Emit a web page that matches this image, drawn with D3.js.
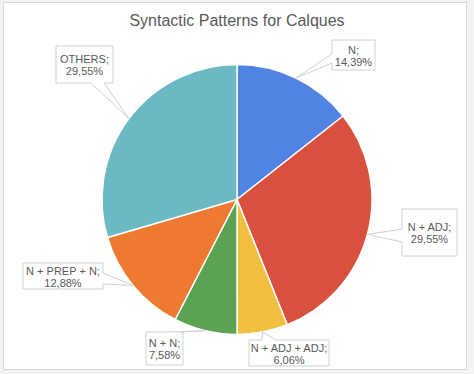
<!DOCTYPE html>
<html>
<head>
<meta charset="utf-8">
<script src="https://cdn.jsdelivr.net/npm/d3@7"></script>
<style>
  body { margin: 0; background: #fff; }
  text { font-family: "Liberation Sans", Arial, sans-serif; fill: #595959; }
</style>
</head>
<body>
<div id="chart"></div>
<script>
// data, clockwise from 12 o'clock
const categories = ["N", "N + ADJ", "N + ADJ + ADJ", "N + N", "N + PREP + N", "OTHERS"];
const values = [14.39, 29.55, 6.06, 7.58, 12.88, 29.55];
const valueLabels = ["14,39%", "29,55%", "6,06%", "7,58%", "12,88%", "29,55%"];
const colors = ["#5083e4", "#d8503e", "#f1c040", "#5ba253", "#ee7a31", "#6bb9c3"];

// callout boxes: [x0, y0, x1, y1], side the pointer leaves from, base span along that side
const callouts = [
  { box: [332, 40, 375, 70], side: "left", base: [54, 63] },
  { box: [402, 209, 457, 256], side: "left", base: [229, 242] },
  { box: [249, 340, 329, 366], side: "top", base: [262, 276] },
  { box: [146, 332, 183, 365], side: "top", base: [168, 180] },
  { box: [23, 263, 103, 289], side: "right", base: [273, 284] },
  { box: [56, 46, 113, 83], side: "bottom", base: [91, 104] }
];

const width = 474, height = 374;
const cx = 237, cy = 199.5, radius = 135;

const svg = d3.select("#chart").append("svg")
  .attr("width", width)
  .attr("height", height);

// frame
svg.append("rect")
  .attr("x", 0).attr("y", 0).attr("width", width).attr("height", height)
  .attr("fill", "#f3f3f3");
svg.append("rect")
  .attr("x", 3.5).attr("y", 2.5).attr("width", 463).attr("height", 367)
  .attr("fill", "#fff").attr("stroke", "#d9d9d9");

svg.append("text")
  .attr("x", cx).attr("y", 26)
  .attr("text-anchor", "middle")
  .style("font-size", "16px")
  .text("Syntactic Patterns for Calques");

const pie = d3.pie().sort(null).value(d => d)(values);
const arc = d3.arc().innerRadius(0).outerRadius(radius);

const g = svg.append("g").attr("transform", "translate(" + cx + "," + cy + ")");
g.selectAll("path")
  .data(pie)
  .join("path")
  .attr("d", arc)
  .attr("fill", (d, i) => colors[i])
  .attr("stroke", "#fff")
  .attr("stroke-width", 1.5);

// callout shape: rectangle with a wedge pointing at the slice edge
function calloutPath(c, tip) {
  const [x0, y0, x1, y1] = c.box;
  const [b0, b1] = c.base;
  const p = d3.path();
  p.moveTo(x0, y0);
  if (c.side === "top") { p.lineTo(b0, y0); p.lineTo(tip[0], tip[1]); p.lineTo(b1, y0); }
  p.lineTo(x1, y0);
  if (c.side === "right") { p.lineTo(x1, b0); p.lineTo(tip[0], tip[1]); p.lineTo(x1, b1); }
  p.lineTo(x1, y1);
  if (c.side === "bottom") { p.lineTo(b1, y1); p.lineTo(tip[0], tip[1]); p.lineTo(b0, y1); }
  p.lineTo(x0, y1);
  if (c.side === "left") { p.lineTo(x0, b1); p.lineTo(tip[0], tip[1]); p.lineTo(x0, b0); }
  p.closePath();
  return p.toString();
}

const labels = svg.append("g");
pie.forEach((d, i) => {
  const mid = (d.startAngle + d.endAngle) / 2;
  const tip = [cx + radius * Math.sin(mid), cy - radius * Math.cos(mid)];
  const c = callouts[i];
  labels.append("path")
    .attr("d", calloutPath(c, tip))
    .attr("fill", "#fff")
    .attr("stroke", "#d0d0d0")
    .attr("stroke-width", 1);
  const tx = (c.box[0] + c.box[2]) / 2;
  const ty = (c.box[1] + c.box[3]) / 2;
  const t = labels.append("text")
    .attr("text-anchor", "middle")
    .style("font-size", "11px");
  t.append("tspan").attr("x", tx).attr("y", ty - 1.5).text(categories[i] + ";");
  t.append("tspan").attr("x", tx).attr("y", ty + 10.5).text(valueLabels[i]);
});
</script>
</body>
</html>
